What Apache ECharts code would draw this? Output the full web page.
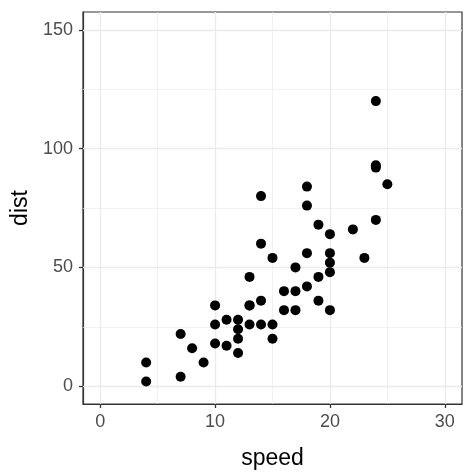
<!DOCTYPE html>
<html><head><meta charset="utf-8">
<script src="https://cdn.jsdelivr.net/npm/echarts@6/dist/echarts.min.js"></script>
<style>html,body{margin:0;padding:0;background:#fff}#c{width:474px;height:474px}</style>
</head><body><div id="c"></div>
<script>
const speed = [4,4,7,7,8,9,10,10,10,11,11,12,12,12,12,13,13,13,13,14,14,14,14,15,15,15,16,16,17,17,17,18,18,18,18,19,19,19,20,20,20,20,20,22,23,24,24,24,24,25];
const dist = [2,10,4,22,16,10,18,26,34,17,28,14,20,24,28,26,34,34,46,26,36,60,80,20,26,54,32,40,32,40,50,42,56,76,84,36,46,68,32,48,52,56,64,66,54,70,92,93,120,85];
const xTicks = [0,10,20,30];
const yTicks = [0,50,100,150];
const xMinor = [5,15,25];
const yMinor = [25,75,125];

const points = speed.map((s,i)=>[s,dist[i]]);
const font = 'Liberation Sans, Arial, Helvetica, sans-serif';
const gridLines = [];
xMinor.forEach(v=>gridLines.push({xAxis:v, lineStyle:{width:0.7}}));
yMinor.forEach(v=>gridLines.push({yAxis:v, lineStyle:{width:0.7}}));
xTicks.forEach(v=>gridLines.push({xAxis:v, lineStyle:{width:1.3}}));
yTicks.forEach(v=>gridLines.push({yAxis:v, lineStyle:{width:1.3}}));

const chart = echarts.init(document.getElementById('c'), null, {renderer:'canvas'});
chart.setOption({
  animation:false,
  backgroundColor:'#ffffff',
  grid:{left:83,right:12,top:12,bottom:70,outerBoundsMode:'none',containLabel:false,show:true,borderColor:'#333333',borderWidth:1.2,backgroundColor:'transparent'},
  xAxis:{type:'value',min:-1.5,max:31.5,
    name:'speed',nameLocation:'middle',nameGap:43,
    nameTextStyle:{fontFamily:font,fontSize:23,color:'#000'},
    axisLine:{show:true,onZero:false,lineStyle:{color:'#333333',width:1.2}},
    axisTick:{show:true,inside:false,customValues:xTicks,length:4,lineStyle:{color:'#333333',width:1.3}},
    axisLabel:{customValues:xTicks,fontFamily:font,fontSize:18,color:'#4d4d4d',margin:9},
    splitLine:{show:false}},
  yAxis:{type:'value',min:-7.5,max:157.5,
    name:'dist',nameLocation:'middle',nameGap:48,nameRotate:90,
    nameTextStyle:{fontFamily:font,fontSize:23,color:'#000'},
    axisLine:{show:true,onZero:false,lineStyle:{color:'#333333',width:1.2}},
    axisTick:{show:true,inside:false,customValues:yTicks,length:4,lineStyle:{color:'#333333',width:1.3}},
    axisLabel:{customValues:yTicks,fontFamily:font,fontSize:18,color:'#4d4d4d',margin:10},
    splitLine:{show:false}},
  series:[
    {type:'scatter',data:[],silent:true,z:1,
     markLine:{silent:true,symbol:'none',label:{show:false},animation:false,
       lineStyle:{color:'#ebebeb',type:'solid'},data:gridLines}},
    {type:'scatter',data:points,symbol:'circle',symbolSize:10,z:5,
     itemStyle:{color:'#000000',opacity:1}}
  ]
});
</script></body></html>
